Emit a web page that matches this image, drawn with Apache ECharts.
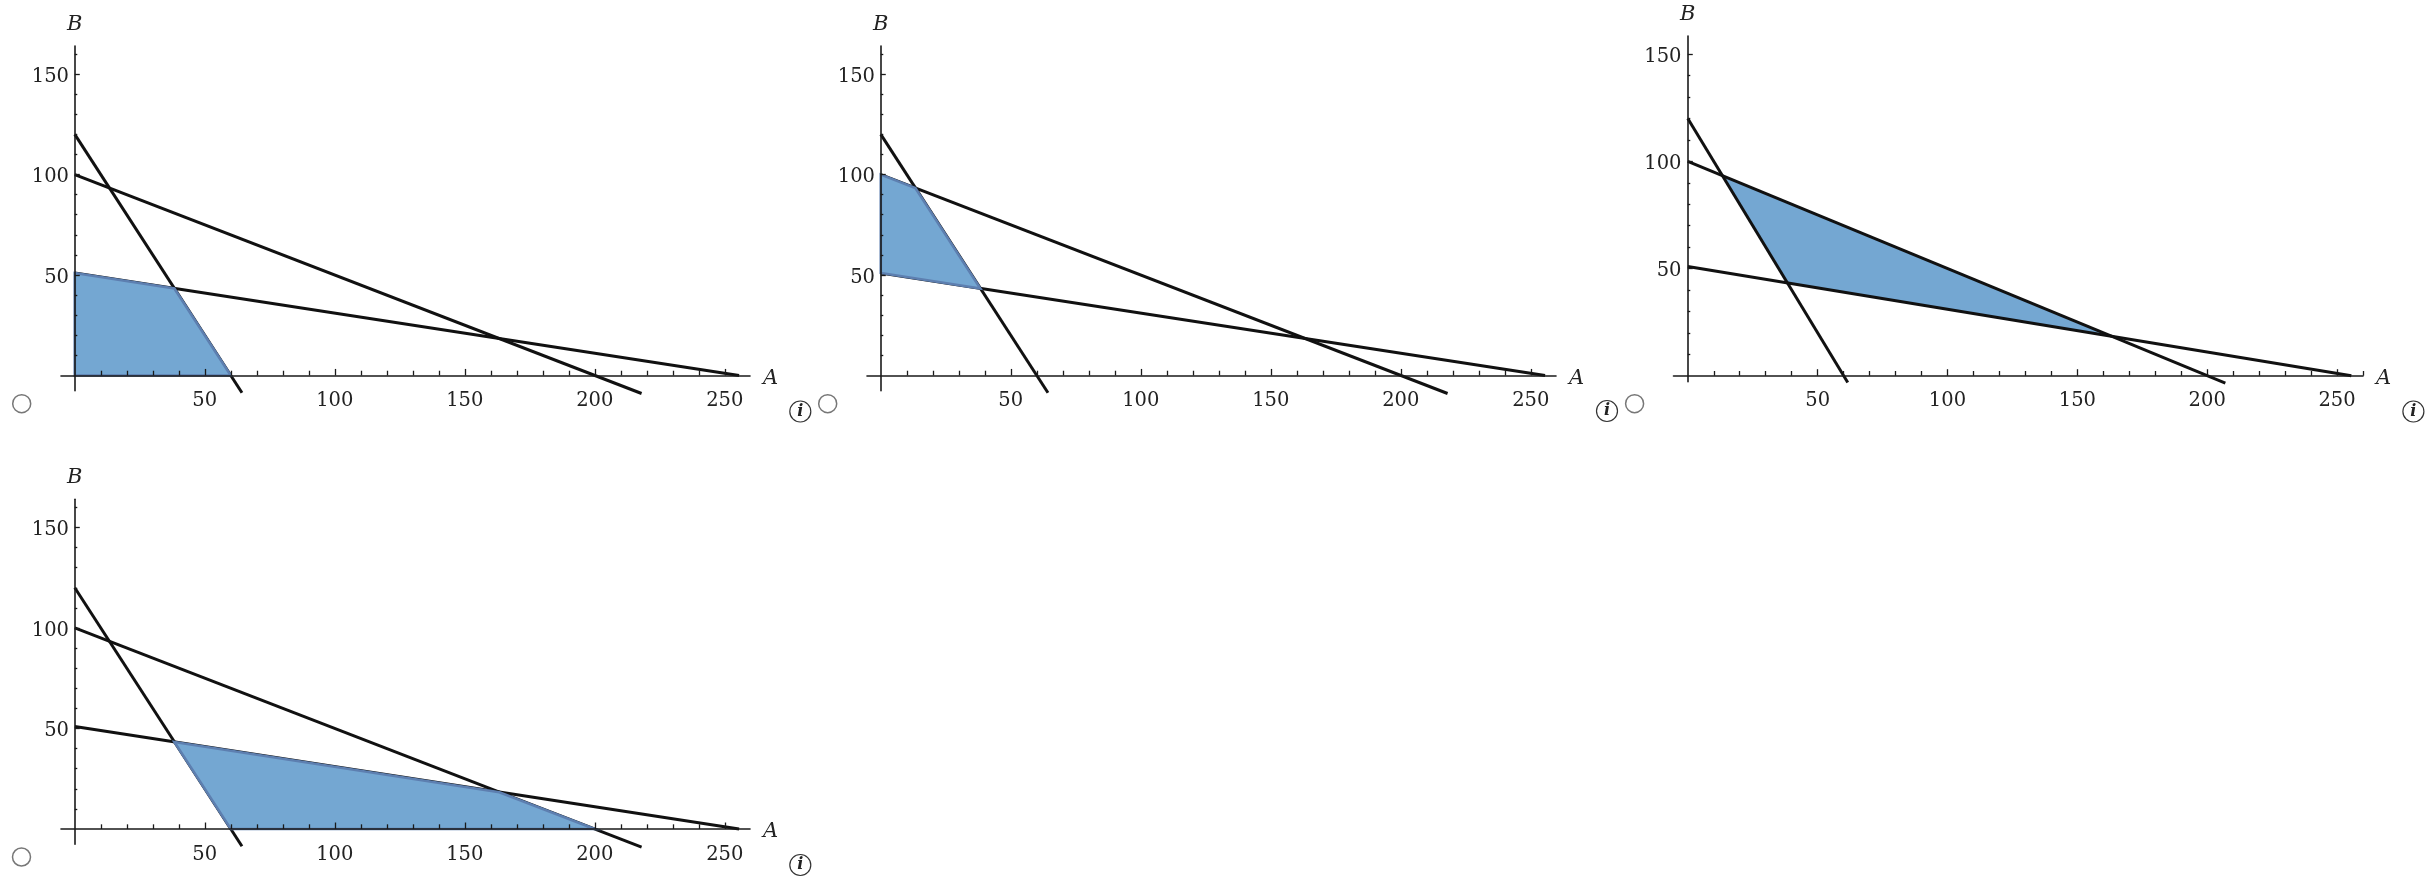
<!DOCTYPE html>
<html><head><meta charset="utf-8">
<style>html,body{margin:0;padding:0;background:#fff}#c{width:2432px;height:885px}</style>
<script src="https://cdn.jsdelivr.net/npm/echarts@6/dist/echarts.min.js"></script>
</head><body><div id="c"></div>
<script>
// Data
const xLabelTicks = [50, 100, 150, 200, 250];
const yLabelTicks = [50, 100, 150];
const xMinorTicks = [10,20,30,40,60,70,80,90,110,120,130,140,160,170,180,190,210,220,230,240,260];
const yMinorTicks = [10,20,30,40,60,70,80,90,110,120,130,140,160];
const lineLong = [[0, 120], [64.3, -8.6]];
const lineMid = [[0, 100], [218, -9]];
const lineFlat = [[0, 51], [255.5, 0]];
const lineLongShort = [[0, 120], [61.6, -3.2]];
const lineMidShort = [[0, 100], [207, -3.5]];
const region1 = [[0, 0], [0, 51], [38.3, 43.3], [60, 0]];
const region2 = [[0, 51], [0, 100], [13.3, 93.3], [38.3, 43.3]];
const region3 = [[13.3, 93.3], [163.3, 18.3], [38.3, 43.3]];
const region4 = [[38.3, 43.3], [163.3, 18.3], [200, 0], [60, 0]];

// Layout (pixels) and axis ranges per panel
const panels = [
  {left: 61, top: 46, w: 689, h: 344.7, xr: [-5.3, 259.7], yr: [-7.6, 164], region: region1, lines: [lineLong, lineMid, lineFlat], over: true,
   radio: [21.7, 403.7], info: [800.3, 411.5], xMargin: 0.5},
  {left: 867, top: 46, w: 689, h: 344.7, xr: [-5.3, 259.7], yr: [-7.6, 164], region: region2, lines: [lineLong, lineMid, lineFlat], over: true,
   radio: [827.7, 403.7], info: [1607, 411], xMargin: 0.5},
  {left: 1673.5, top: 36, w: 689.5, h: 345.7, xr: [-5.5, 260], yr: [-2.8, 158.5], region: region3, lines: [lineLongShort, lineMidShort, lineFlat], over: false,
   radio: [1634.6, 403.7], info: [2413.4, 411.5], xMargin: 9.5},
  {left: 61, top: 499.3, w: 689, h: 345, xr: [-5.3, 259.7], yr: [-7.6, 164], region: region4, lines: [lineLong, lineMid, lineFlat], over: true,
   radio: [21.5, 857], info: [800.3, 865], xMargin: 0.5}
];

const FONT = '"DejaVu Serif", "Liberation Serif", serif';
const DARK = '#1a1a1a';
const grid = [], xAxis = [], yAxis = [], series = [], graphic = [];

panels.forEach((p, i) => {
  grid.push({left: p.left, top: p.top, width: p.w, height: p.h, containLabel: false});
  const gi = grid.length - 1;
  const xMain = xAxis.length, yMain = yAxis.length;
  xAxis.push({
    type: 'value', gridIndex: gi, min: p.xr[0], max: p.xr[1], position: 'bottom', z: 6,
    splitLine: {show: false}, name: 'A', nameLocation: 'end', nameGap: 13,
    nameTextStyle: {fontFamily: FONT, fontStyle: 'italic', fontSize: 21, color: '#222', verticalAlign: 'top', lineHeight: 6},
    axisLine: {show: true, onZero: true, lineStyle: {color: DARK, width: 1.6}},
    axisTick: {show: true, inside: true, length: 6.5, customValues: xLabelTicks, lineStyle: {color: DARK, width: 1.3}},
    axisLabel: {show: true, customValues: xLabelTicks, margin: p.xMargin, fontFamily: FONT, fontSize: 19.5, color: '#222'}
  });
  xAxis.push({
    type: 'value', gridIndex: gi, min: p.xr[0], max: p.xr[1], position: 'bottom', z: 6,
    splitLine: {show: false},
    axisLine: {show: false, onZero: true},
    axisTick: {show: true, inside: true, length: 4.7, customValues: xMinorTicks, lineStyle: {color: DARK, width: 1.3}},
    axisLabel: {show: false}
  });
  yAxis.push({
    type: 'value', gridIndex: gi, min: p.yr[0], max: p.yr[1], position: 'left', z: 6,
    splitLine: {show: false}, name: 'B', nameLocation: 'end', nameGap: 11,
    nameTextStyle: {fontFamily: FONT, fontStyle: 'italic', fontSize: 21, color: '#222'},
    axisLine: {show: true, onZero: true, lineStyle: {color: DARK, width: 1.6}},
    axisTick: {show: true, inside: true, length: 5, customValues: yLabelTicks, lineStyle: {color: DARK, width: 1.3}},
    axisLabel: {show: true, customValues: yLabelTicks, margin: -8, fontFamily: FONT, fontSize: 19.5, color: '#222', verticalAlign: 'top', lineHeight: 5}
  });
  yAxis.push({
    type: 'value', gridIndex: gi, min: p.yr[0], max: p.yr[1], position: 'left', z: 6,
    splitLine: {show: false},
    axisLine: {show: false, onZero: true},
    axisTick: {show: true, inside: true, length: 2.5, customValues: yMinorTicks, lineStyle: {color: DARK, width: 1.3}},
    axisLabel: {show: false}
  });
  p.lines.forEach(d => series.push({
    type: 'line', xAxisIndex: xMain, yAxisIndex: yMain, data: d, symbol: 'none', clip: false, silent: true,
    z: 3, lineStyle: {color: '#111', width: 3}
  }));
  series.push({
    type: 'custom', xAxisIndex: xMain, yAxisIndex: yMain, data: p.region, clip: false, silent: true,
    z: p.over ? 4 : 2,
    encode: {x: 0, y: 1},
    renderItem: (params, api) => {
      if (params.dataIndex !== 0) return null;
      return {type: 'polygon', shape: {points: p.region.map(v => api.coord(v))},
        style: {fill: '#74a7d2', stroke: p.over ? '#5d7fb0' : 'none', lineWidth: 2.6}};
    }
  });
  graphic.push({type: 'circle', shape: {cx: p.radio[0], cy: p.radio[1], r: 9}, style: {fill: '#fff', stroke: '#777', lineWidth: 1.5}});
  graphic.push({type: 'circle', shape: {cx: p.info[0], cy: p.info[1], r: 10.5}, style: {fill: '#fff', stroke: '#333', lineWidth: 1.2}});
  graphic.push({type: 'text', x: p.info[0], y: p.info[1], style: {text: 'i', x: 0, y: 0, align: 'center', verticalAlign: 'middle',
    font: 'italic bold 16px ' + FONT, fill: '#222'}});
});

const chart = echarts.init(document.getElementById('c'), null, {renderer: 'canvas', width: 2432, height: 885});
chart.setOption({animation: false, backgroundColor: '#fff', tooltip: {show: false}, grid, xAxis, yAxis, series, graphic});
</script></body></html>
